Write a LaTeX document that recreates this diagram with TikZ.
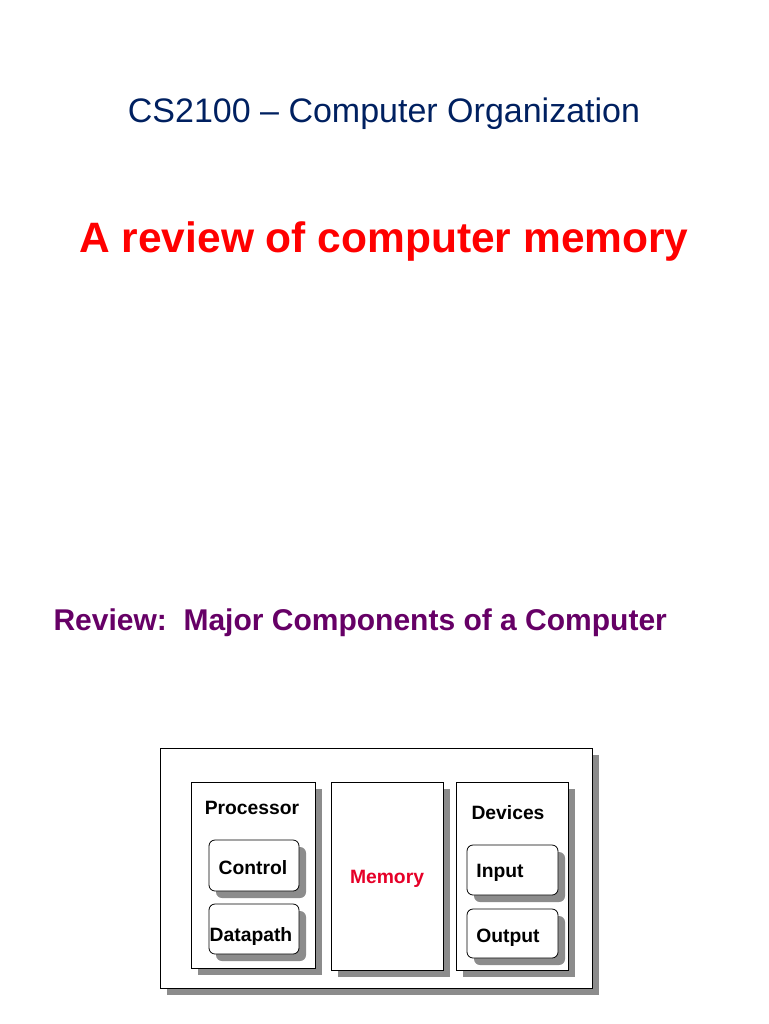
\documentclass[tikz,border=0pt]{standalone}
\usepackage{fontspec}
\setmainfont{Liberation Sans}
\begin{document}
\begin{tikzpicture}[x=1pt,y=-1pt,
  box/.style={draw=black,fill=white,line width=0.8pt},
  shad/.style={fill=black!45},
  lbl/.style={font=\fontsize{19.3}{21}\selectfont\bfseries,inner sep=0pt}]
\useasboundingbox (0,0) rectangle (768,1024);
\definecolor{navy}{RGB}{0,32,96}
\definecolor{purp}{RGB}{102,0,102}
\definecolor{memred}{RGB}{230,0,40}
\node[text=navy,font=\fontsize{34}{38}\selectfont] (t1) at (384,114) {CS2100 -- Computer Organization};
\node[text=red,font=\fontsize{42.5}{46}\selectfont\bfseries] (t2) at (384,242) {A review of computer memory};
\node[text=purp,font=\fontsize{30}{34}\selectfont\bfseries,anchor=west] (t3) at (50,623) {Review:~~Major Components of a Computer};
% outer
\fill[shad] (167,755) rectangle (599,995);
\draw[box] (160,748) rectangle (592,988);
\fill[shad] (198,789) rectangle (322,975);
\draw[box] (191,782) rectangle (315,968);
\fill[shad] (338,789) rectangle (450,977);
\draw[box] (331,782) rectangle (443,970);
\fill[shad] (463,789) rectangle (575,977);
\draw[box] (456,782) rectangle (568,970);
\foreach \a/\b/\c/\d in {209/840/299/891,209/904/299/954,467/845/558/895,467/909/558/958}{
  \fill[shad,rounded corners=6pt] (\a+7,\b+7) rectangle (\c+7,\d+7);
  \draw[box,rounded corners=6pt] (\a,\b) rectangle (\c,\d);
}
\node[lbl] (proc) at (252,808) {Processor};
\node[lbl] (ctrl) at (253,868) {Control};
\node[lbl] (dp) at (251,936) {Datapath};
\node[lbl,text=memred] (mem) at (387,879) {Memory};
\node[lbl] (dev) at (508,813) {Devices};
\node[lbl] (in) at (500,873) {Input};
\node[lbl] (out) at (508,938) {Output};
\end{tikzpicture}
\end{document}
